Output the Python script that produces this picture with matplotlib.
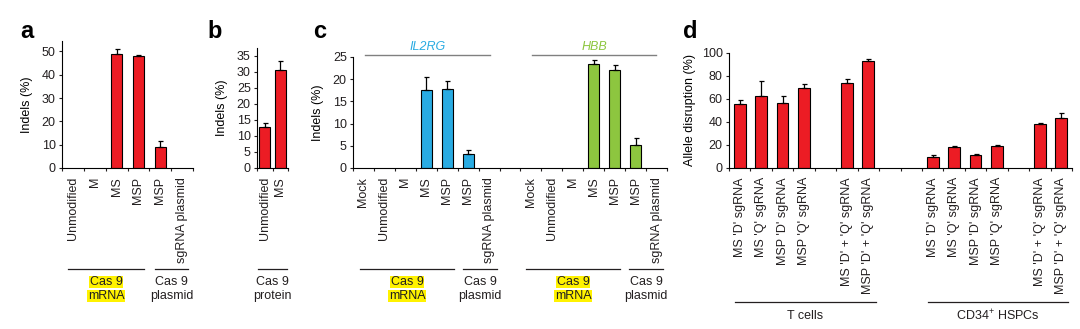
import numpy as np
import matplotlib.pyplot as plt
from matplotlib import transforms

plt.rcParams['font.family'] = ['Liberation Sans', 'DejaVu Sans']
plt.rcParams['font.size'] = 9
plt.rcParams['mathtext.fontset'] = 'custom'
plt.rcParams['mathtext.rm'] = 'Liberation Sans'
plt.rcParams['text.color'] = '#231f20'
plt.rcParams['xtick.color'] = '#231f20'
plt.rcParams['ytick.color'] = '#231f20'

W, H = 1080, 329

RED = '#ec1c24'
BLUE = '#29abe2'
GREEN = '#8dc63f'
HILITE = '#fff200'

# ===========================
# data
# ===========================

a_labels = ["Unmodified", "M", "MS", "MSP", "MSP", "sgRNA plasmid"]
a_values = [0, 0, 48.8, 47.9, 9.2, 0]
a_errors = [0, 0, 2.1, 0.8, 2.4, 0]

b_labels = ["Unmodified", "MS"]
b_values = [12.9, 30.7]
b_errors = [1.3, 2.8]

c_labels = ["Mock", "Unmodified", "M", "MS", "MSP", "MSP", "sgRNA plasmid", "",
            "Mock", "Unmodified", "M", "MS", "MSP", "MSP", "sgRNA plasmid"]
c_il2rg = [0, 0, 0, 17.6, 17.8, 3.2, 0]
c_il2rg_err = [0, 0, 0, 2.9, 1.9, 0.8, 0]
c_hbb = [0, 0, 0, 23.5, 22.1, 5.2, 0]
c_hbb_err = [0, 0, 0, 0.8, 1.1, 1.6, 0]

d_labels = ["MS 'D' sgRNA", "MS 'Q' sgRNA", "MSP 'D' sgRNA", "MSP 'Q' sgRNA", "",
            "MS 'D' + 'Q' sgRNA", "MSP 'D' + 'Q' sgRNA", "", "",
            "MS 'D' sgRNA", "MS 'Q' sgRNA", "MSP 'D' sgRNA", "MSP 'Q' sgRNA", "",
            "MS 'D' + 'Q' sgRNA", "MSP 'D' + 'Q' sgRNA"]
d_tcells = [55.8, 62.5, 56.3, 69.3, 0, 73.6, 92.8]
d_tcells_err = [3.2, 12.4, 6.0, 3.3, 0, 3.3, 1.4]
d_cd34 = [9.9, 17.9, 11.0, 19.1, 0, 38.2, 43.1]
d_cd34_err = [1.3, 1.1, 1.1, 1.1, 0, 0.7, 4.2]


# ===========================
# helpers
# ===========================

fig = plt.figure(figsize=(W / 100, H / 100), dpi=100)


def px_axes(x0, x1, y_top, y_bottom=168):
    return fig.add_axes([x0 / W, 1 - y_bottom / H, (x1 - x0) / W, (y_bottom - y_top) / H])


def style(ax, labels, ylim, yticks, ylabel, labelpad):
    n = len(labels)
    ax.set_xlim(-0.5, n - 0.5)
    ax.set_ylim(*ylim)
    ax.set_yticks(yticks)
    ax.spines[['top', 'right']].set_visible(False)
    for s in ['left', 'bottom']:
        ax.spines[s].set_linewidth(0.8)
    ax.set_xticks(range(n))
    ax.set_xticklabels(labels, rotation=90, va='top')
    ax.set_xticks(np.arange(n + 1) - 0.5, minor=True)
    ax.tick_params(axis='x', which='major', length=0, pad=6.5)
    ax.tick_params(axis='x', which='minor', length=2.5, width=0.8, direction='out')
    ax.tick_params(axis='y', length=2.5, width=0.8, pad=2)
    ax.set_ylabel(ylabel, labelpad=labelpad)


def bars(ax, values, errors, color, width, offset=0):
    x = [i + offset for i, v in enumerate(values) if v > 0]
    h = [v for v in values if v > 0]
    e = [errors[i] for i, v in enumerate(values) if v > 0]
    ax.bar(x, h, width=width, color=color, edgecolor='black', linewidth=0.8, zorder=2)
    ax.errorbar(x, h, yerr=[np.zeros(len(e)), e], fmt='none', ecolor='black',
                elinewidth=0.9, capsize=1.8, capthick=0.9, zorder=3)


def group(ax, x0, x1, y_line, texts, y_texts, highlight=False):
    tr = transforms.blended_transform_factory(ax.transData, fig.transFigure)
    ax.plot([x0, x1], [1 - y_line / H] * 2, transform=tr, color='#231f20',
            lw=0.9, clip_on=False)
    for t, yt in zip(texts, y_texts):
        box = dict(facecolor=HILITE, edgecolor='none', pad=0.3) if highlight else None
        ax.text((x0 + x1) / 2, 1 - yt / H, t, transform=tr, ha='center',
                va='center', bbox=box)


# ===========================
# panel a
# ===========================

ax_a = px_axes(62, 193, 41)
bars(ax_a, a_values, a_errors, RED, 0.5)
style(ax_a, a_labels, (0, 54.5), range(0, 51, 10), "Indels (%)", 6)
group(ax_a, -0.22, 3.25, 269, ["Cas 9", "mRNA"], [282, 296], highlight=True)
group(ax_a, 3.77, 5.27, 269, ["Cas 9", "plasmid"], [282, 296])

# ===========================
# panel b
# ===========================

ax_b = px_axes(257, 288, 48)
bars(ax_b, b_values, b_errors, RED, 0.72)
style(ax_b, b_labels, (0, 37.5), range(0, 36, 5), "Indels (%)", 6)
group(ax_b, -0.44, 1.43, 269, ["Cas 9", "protein"], [282, 296])

# ===========================
# panel c
# ===========================

ax_c = px_axes(353, 667, 57)
bars(ax_c, c_il2rg, c_il2rg_err, BLUE, 0.53)
bars(ax_c, c_hbb, c_hbb_err, GREEN, 0.53, offset=8)
style(ax_c, c_labels, (0, 25), range(0, 26, 5), "Indels (%)", 6)
group(ax_c, -0.17, 4.33, 269, ["Cas 9", "mRNA"], [282, 296], highlight=True)
group(ax_c, 4.76, 6.38, 269, ["Cas 9", "plasmid"], [282, 296])
group(ax_c, 7.77, 12.26, 269, ["Cas 9", "mRNA"], [282, 296], highlight=True)
group(ax_c, 12.69, 14.31, 269, ["Cas 9", "plasmid"], [282, 296])

tr_c = transforms.blended_transform_factory(ax_c.transData, fig.transFigure)
for x0, x1, name, col in [(0.07, 6.05, "IL2RG", BLUE), (8.05, 13.98, "HBB", GREEN)]:
    ax_c.plot([x0, x1], [1 - 54.5 / H] * 2, transform=tr_c, color='#808080',
              lw=1.0, clip_on=False)
    ax_c.text((x0 + x1) / 2, 1 - 46.5 / H, name, transform=tr_c, ha='center',
              va='center', color=col, style='italic')

# ===========================
# panel d
# ===========================

ax_d = px_axes(729, 1072, 52.5)
bars(ax_d, d_tcells, d_tcells_err, RED, 0.55)
bars(ax_d, d_cd34, d_cd34_err, RED, 0.55, offset=9)
style(ax_d, d_labels, (0, 100), range(0, 101, 20), "Allele disruption (%)", 4)
group(ax_d, -0.22, 6.36, 302, ["T cells"], [316])
group(ax_d, 8.79, 15.32, 302, ["CD34$^{+}$ HSPCs"], [316])

# ===========================
# panel letters
# ===========================

for x, letter in [(20, "a"), (207, "b"), (313, "c"), (683, "d")]:
    fig.text(x / W, 1 - 38 / H, letter, fontsize=17, fontweight='bold',
             ha='left', va='baseline', color='black')

fig.savefig("out.png", dpi=100)
